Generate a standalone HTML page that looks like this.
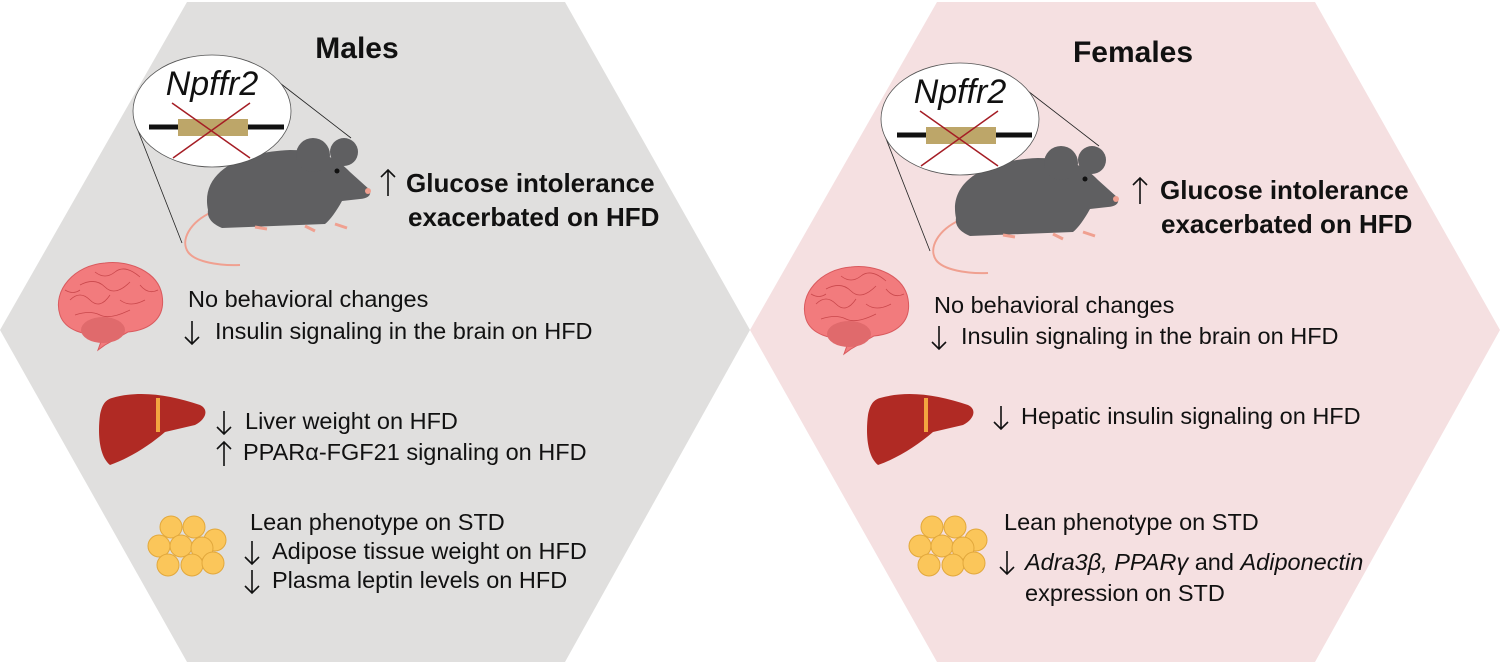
<!DOCTYPE html>
<html><head><meta charset="utf-8"><style>
html,body{margin:0;padding:0;background:#fff}
svg{display:block}
text{font-family:"Liberation Sans",sans-serif;fill:#111}
.b{font-weight:bold}
.t{font-size:23.5px}
.ar{fill:none;stroke:#111;stroke-width:1.6}
</style></head><body>
<svg width="1500" height="663" viewBox="0 0 1500 663" xmlns="http://www.w3.org/2000/svg">
<defs>
<g id="mouse">
  <path d="M212,212 C190,222 180,240 188,252 C195,262 220,266 240,265" fill="none" stroke="#f0a090" stroke-width="2"/>
  <path d="M208,210 C200,172 240,152 290,150 C318,150 335,156 350,172 L370,190 Q372,198 360,199 L342,201 C336,212 330,220 325,224 L222,228 C210,223 207,216 208,210 Z" fill="#5f5f61"/>
  <circle cx="313" cy="155" r="17" fill="#5f5f61"/>
  <circle cx="344" cy="152" r="14" fill="#5f5f61"/>
  <circle cx="337" cy="171" r="2.5" fill="#111"/>
  <circle cx="368" cy="191" r="3" fill="#f0a090"/>
  <path d="M255,227 l12,2 M305,226 l10,5 M335,224 l12,4" stroke="#f0a090" stroke-width="3"/>
  <line x1="137" y1="128" x2="182" y2="243" stroke="#222" stroke-width="0.8"/>
  <line x1="276" y1="80" x2="351" y2="138" stroke="#222" stroke-width="0.8"/>
  <ellipse cx="212" cy="111" rx="79" ry="56" fill="#fff" stroke="#555" stroke-width="0.8"/>
  <text x="212" y="95" text-anchor="middle" font-style="italic" font-size="34">Npffr2</text>
  <line x1="149" y1="127" x2="284" y2="127" stroke="#111" stroke-width="5"/>
  <rect x="178" y="119" width="70" height="17" fill="#bda669"/>
  <line x1="172" y1="103" x2="250" y2="158" stroke="#a51d25" stroke-width="1.5"/>
  <line x1="250" y1="103" x2="173" y2="158" stroke="#a51d25" stroke-width="1.5"/>
</g>
<g id="brain">
  <path d="M60,315 C52,290 75,265 105,263 C130,260 158,272 162,295 C166,318 150,330 128,332 L105,345 L98,350 L104,333 C85,337 65,330 60,315 Z" fill="#f27b7d" stroke="#d95a5e" stroke-width="1"/>
  <ellipse cx="103" cy="330" rx="22" ry="13" fill="#e06a6c"/>
  <path d="M70,300 q10,-10 20,0 t20,-5 M80,285 q15,-8 25,2 t25,-5 M75,315 q15,-5 25,0 t30,-5 M120,300 q10,8 25,0 M95,272 q10,8 20,0 t25,5 M65,290 q8,5 15,0 M140,285 q8,10 18,5" fill="none" stroke="#c9484c" stroke-width="0.8"/>
</g>
<g id="liver">
  <path d="M112,398 C140,390 170,395 200,405 C210,410 205,420 195,425 L165,432 C150,445 130,458 110,465 C98,455 98,430 100,415 C102,405 105,400 112,398 Z" fill="#b02a24"/>
  <rect x="156" y="398" width="4" height="34" fill="#f2a540"/>
</g>
<g id="fat" fill="#fbc65a" stroke="#e2a83c" stroke-width="1">
  <circle cx="171" cy="527" r="11"/><circle cx="194" cy="527" r="11"/><circle cx="215" cy="540" r="11"/>
  <circle cx="159" cy="546" r="11"/><circle cx="181" cy="546" r="11"/><circle cx="202" cy="548" r="11"/>
  <circle cx="168" cy="565" r="11"/><circle cx="192" cy="565" r="11"/><circle cx="213" cy="563" r="11"/>
</g>
</defs>

<polygon points="0,330 187,2 565,2 750,330 565,662 187,662" fill="#e0dfde"/>
<polygon points="750,330 937,2 1315,2 1500,330 1315,662 937,662" fill="#f5e0e1"/>

<!-- Males -->
<text x="357" y="58" text-anchor="middle" class="b" font-size="30">Males</text>
<use href="#mouse"/>
<path class="ar" d="M388,196 V170 M381,177 L388,170 L395,177"/>
<text x="406" y="192" class="b" font-size="26">Glucose intolerance</text>
<text x="408" y="226" class="b" font-size="26">exacerbated on HFD</text>
<use href="#brain"/>
<text x="188" y="307" class="t">No behavioral changes</text>
<path class="ar" d="M192,321 V344 M185,337 L192,344 L199,337"/>
<text x="215" y="339" class="t">Insulin signaling in the brain on HFD</text>
<use href="#liver"/>
<path class="ar" d="M224,411 V434 M217,427 L224,434 L231,427"/>
<text x="245" y="429" class="t">Liver weight on HFD</text>
<path class="ar" d="M224,466 V442 M217,449 L224,442 L231,449"/>
<text x="243" y="460" class="t">PPARα-FGF21 signaling on HFD</text>
<use href="#fat"/>
<text x="250" y="530" class="t">Lean phenotype on STD</text>
<path class="ar" d="M252,541 V564 M245,557 L252,564 L259,557"/>
<text x="272" y="559" class="t">Adipose tissue weight on HFD</text>
<path class="ar" d="M252,570 V593 M245,586 L252,593 L259,586"/>
<text x="272" y="588" class="t">Plasma leptin levels on HFD</text>

<!-- Females -->
<text x="1133" y="62" text-anchor="middle" class="b" font-size="30">Females</text>
<use href="#mouse" transform="translate(748,8)"/>
<path class="ar" d="M1140,204 V178 M1133,185 L1140,178 L1147,185"/>
<text x="1160" y="199" class="b" font-size="26">Glucose intolerance</text>
<text x="1161" y="233" class="b" font-size="26">exacerbated on HFD</text>
<use href="#brain" transform="translate(746,4)"/>
<text x="934" y="313" class="t">No behavioral changes</text>
<path class="ar" d="M939,326 V349 M932,342 L939,349 L946,342"/>
<text x="961" y="344" class="t">Insulin signaling in the brain on HFD</text>
<use href="#liver" transform="translate(768,0)"/>
<path class="ar" d="M1001,406 V429 M994,422 L1001,429 L1008,422"/>
<text x="1021" y="424" class="t">Hepatic insulin signaling on HFD</text>
<use href="#fat" transform="translate(761,0)"/>
<text x="1004" y="530" class="t">Lean phenotype on STD</text>
<path class="ar" d="M1007,551 V574 M1000,567 L1007,574 L1014,567"/>
<text x="1025" y="570" class="t"><tspan font-style="italic">Adra3β, PPARγ</tspan> and <tspan font-style="italic">Adiponectin</tspan></text>
<text x="1025" y="601" class="t">expression on STD</text>
</svg>
</body></html>
